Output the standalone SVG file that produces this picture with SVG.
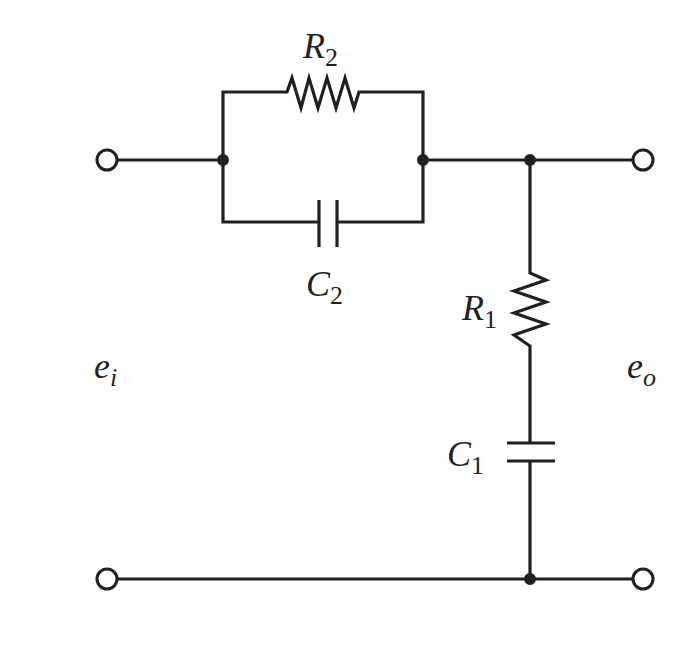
<svg xmlns="http://www.w3.org/2000/svg" width="700" height="647" viewBox="0 0 700 647">
<style>
.w{fill:none;stroke:#231f20;stroke-width:3.2;stroke-linejoin:miter}
.t{fill:#231f20;stroke:#231f20;stroke-width:3}
.o{fill:#fff;stroke:#231f20;stroke-width:3}
.l{font-family:"Liberation Serif",serif;font-style:italic;font-size:36px;fill:#231f20}
.s{font-style:normal;font-size:26px}
.si{font-size:26px}
</style>
<rect width="700" height="647" fill="#fff"/>
<g id="connectors">
<path class="w" d="M117,160 H223 M423,160 H633"/>
<path class="w" d="M117,579 H633"/>
<path class="w" d="M223,160 V92 H287 L292,78 L301,108 L309,78 L318,108 L327,78 L336,108 L345,78 L354,108 L359,92 H423 V160"/>
<path class="w" d="M223,160 V222 H319 M337,222 H423 V160"/>
<path class="w" d="M319,200 V247 M337,200 V247"/>
<path class="w" d="M530,160 V273 L546,280 L514,291 L546,302 L514,313 L546,324 L514,335 L530,346 V443 M507,443 H555 M507,461 H555 M530,461 V579"/>
</g>
<g id="nodes">
<circle class="o" cx="107" cy="160" r="10"/>
<circle class="o" cx="643" cy="160" r="10"/>
<circle class="o" cx="107" cy="579" r="10"/>
<circle class="o" cx="643" cy="579" r="10"/>
<circle class="t" cx="223" cy="160" r="4.5"/>
<circle class="t" cx="423" cy="160" r="4.5"/>
<circle class="t" cx="530" cy="160" r="4.5"/>
<circle class="t" cx="530" cy="579" r="4.5"/>
</g>
<g id="labels">
<text class="l" x="303" y="58">R<tspan class="s" dy="8">2</tspan></text>
<text class="l" x="306" y="296">C<tspan class="s" dy="8">2</tspan></text>
<text class="l" x="462" y="320">R<tspan class="s" dy="8">1</tspan></text>
<text class="l" x="447" y="466">C<tspan class="s" dy="8">1</tspan></text>
<text class="l" x="94" y="378">e<tspan class="si" dy="8">i</tspan></text>
<text class="l" x="627" y="378">e<tspan class="si" dy="8">o</tspan></text>
</g>
</svg>
